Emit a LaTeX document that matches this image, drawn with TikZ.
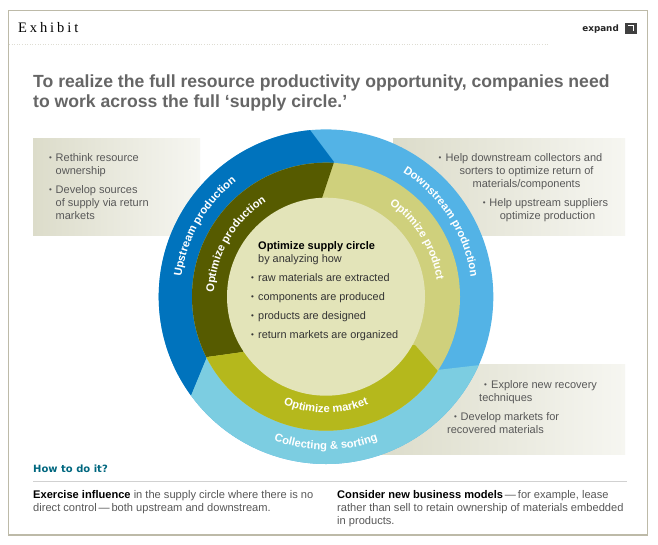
\documentclass[tikz,border=0pt]{standalone}
\usepackage{fontspec}
\setmainfont{Liberation Sans}
\newfontfamily\serifx{Liberation Serif}
\newfontfamily\widebold{DejaVu Sans}
\usetikzlibrary{decorations.text}
\definecolor{framec}{HTML}{BDBAA8}
\definecolor{titlec}{HTML}{666666}
\definecolor{bodytx}{HTML}{585858}
\definecolor{upc}{HTML}{0073BD}
\definecolor{downc}{HTML}{53B3E6}
\definecolor{collc}{HTML}{7CCDE1}
\definecolor{prodc}{HTML}{565B00}
\definecolor{prdc}{HTML}{CFD07C}
\definecolor{mktc}{HTML}{B5B81C}
\definecolor{corec}{HTML}{E3E4B9}
\definecolor{paneld}{HTML}{DCDCCA}
\definecolor{panell}{HTML}{F6F6F1}
\definecolor{howc}{HTML}{00677F}
\newcommand{\bul}[1]{\makebox[#1][l]{\fontsize{8}{8}\selectfont\raisebox{.5pt}{•}}}
\newcommand{\rf}{\fontsize{11.2}{13}\selectfont\bfseries\color{white}}
\tikzset{
  bodyb/.style={font=\fontsize{11}{13}\selectfont,text=bodytx,inner sep=0pt,anchor=base},
  bodycen/.style={bodyb,align=center},
  bodyl/.style={bodyb,anchor=base west,align=left},
  coret/.style={font=\fontsize{10.9}{13}\selectfont,text=black!80,inner sep=0pt,anchor=base west},
  titlet/.style={font=\fontsize{17.6}{20}\selectfont\bfseries,text=titlec,inner sep=0pt,anchor=base west},
  ringtext/.style={decorate,decoration={text along path,text align=center,text={#1}}}
}
\begin{document}
\begin{tikzpicture}[x=1pt,y=-1pt]
\useasboundingbox (0,0) rectangle (658,544);
\fill[white] (0,0) rectangle (658,544);
% frame
\draw[framec,line width=.8pt] (8.5,10.5) rectangle (647.5,535);
\draw[framec,line width=2pt] (8,535) -- (648,535);
\draw[framec!50,line width=.6pt,dotted] (9,44) -- (549,44);
\node[inner sep=0pt,anchor=base west] (exhibit) at (18,32.5) {\serifx\fontsize{14.5}{16}\selectfont\addfontfeatures{LetterSpace=20}Exhibit};
\node[inner sep=0pt,anchor=base east,font=\widebold\fontsize{8.8}{11}\selectfont\bfseries,text=black!85] (expand) at (619,31.5) {expand};
\fill[black!75] (625,22.5) rectangle (637,33.5);
\draw[white,line width=1.1pt] (628,25.5) -- (633.5,25.5) -- (633.5,31);
% title
\node[titlet] (t1) at (33,87.5) {To realize the full resource productivity opportunity, companies need};
\node[titlet] (t2) at (33,107.5) {to work across the full ‘supply circle.’};
% panels
\shade[left color=paneld,right color=panell] (33,138) rectangle (200,235);
\shade[left color=paneld,right color=panell] (393,138) rectangle (625,235);
\shade[left color=paneld,right color=panell] (380,364) rectangle (625,454);
% outer ring
\coordinate (c) at (326,296.7);
\fill[downc] (c) circle[radius=167.3pt];
\begin{scope}
  \clip (c) circle[radius=167.3pt];
  \fill[upc] (334,162) -- (298,114) -- (140,114) -- (140,440) -- (181,420) -- (207,357) -- cycle;
  \fill[collc] (181,420) -- (207,357) -- (437,370) -- (480,365) -- (510,361.5) -- (510,480) -- (181,480) -- cycle;
\end{scope}
% middle ring
\fill[prdc] (c) circle[radius=134pt];
\begin{scope}
  \clip (c) circle[radius=134pt];
  \fill[prodc] (322,198) -- (340,144) -- (180,144) -- (180,360.75) -- (243,352) -- cycle;
  \fill[mktc] (243,352) -- (180,360.75) -- (180,440) -- (470,440) -- (470,407.5) -- (415,345) -- cycle;
\end{scope}
\fill[corec] (c) circle[radius=99pt];
% ring labels
\path[ringtext={|\rf|Upstream production}] ([shift={(200:146pt)}]c) arc[start angle=200,end angle=100,radius=146pt];
\path[ringtext={|\rf|Downstream production}] ([shift={(85:146pt)}]c) arc[start angle=85,end angle=-19,radius=146pt];
\path[ringtext={|\rf|Optimize production}] ([shift={(200:112pt)}]c) arc[start angle=200,end angle=100,radius=112pt];
\path[ringtext={|\rf|Optimize product}] ([shift={(82:112pt)}]c) arc[start angle=82,end angle=-18,radius=112pt];
\path[ringtext={|\rf|Optimize market}] ([shift={(220:116pt)}]c) arc[start angle=220,end angle=320,radius=116pt];
\path[ringtext={|\rf|Collecting {\&} sorting}] ([shift={(220:153pt)}]c) arc[start angle=220,end angle=320,radius=153pt];
% left panel text
\node[bodyl] (l1) at (49,174) {\bul{6.5pt}Rethink resource\\\hspace*{6.5pt}ownership};
\node[bodyl] (l2) at (49,219) {\bul{6.5pt}Develop sources\\\hspace*{6.5pt}of supply via return\\\hspace*{6.5pt}markets};
% right panel
\node[bodycen] (r1) at (526.5,187) {\bul{7pt}Help downstream collectors and\hspace*{12pt}\\sorters to optimize return of\\materials/components};
\node[bodycen] (r2) at (547.5,219) {\bul{6.5pt}Help upstream suppliers\hspace*{4pt}\\optimize production};
% lower right
\node[bodyl] (s1) at (479,401) {\hspace*{5pt}\bul{7pt}Explore new recovery\\techniques};
\node[bodyl] (s2) at (447,433) {\hspace*{7pt}\bul{6.5pt}Develop markets for\\recovered materials};
% centre
\node[coret,font=\fontsize{11}{13}\selectfont\bfseries,text=black] (k0) at (258,249) {Optimize supply circle};
\node[coret] (k1) at (258,262) {by analyzing how};
\node[coret] (k2) at (251,281) {\bul{7pt}raw materials are extracted};
\node[coret] (k3) at (251,300) {\bul{7pt}components are produced};
\node[coret] (k4) at (251,319) {\bul{7pt}products are designed};
\node[coret] (k5) at (251,338) {\bul{7pt}return markets are organized};
% how to
\node[inner sep=0pt,anchor=base west,font=\widebold\fontsize{10}{13}\selectfont\bfseries,text=howc] (how) at (33,472) {How to do it?};
\draw[black!18,line width=.8pt] (33,481) -- (627,481);
\node[bodyl,font=\fontsize{11.1}{13}\selectfont] (b1) at (33,511) {\textbf{\color{black}Exercise influence} in the supply circle where there is no\\direct control\,—\,both upstream and downstream.};
\node[bodyl,font=\fontsize{11.1}{13}\selectfont] (b2) at (337,524) {\textbf{\color{black}Consider new business models}\,—\,for example, lease\\rather than sell to retain ownership of materials embedded\\in products.};
\end{tikzpicture}
\end{document}
